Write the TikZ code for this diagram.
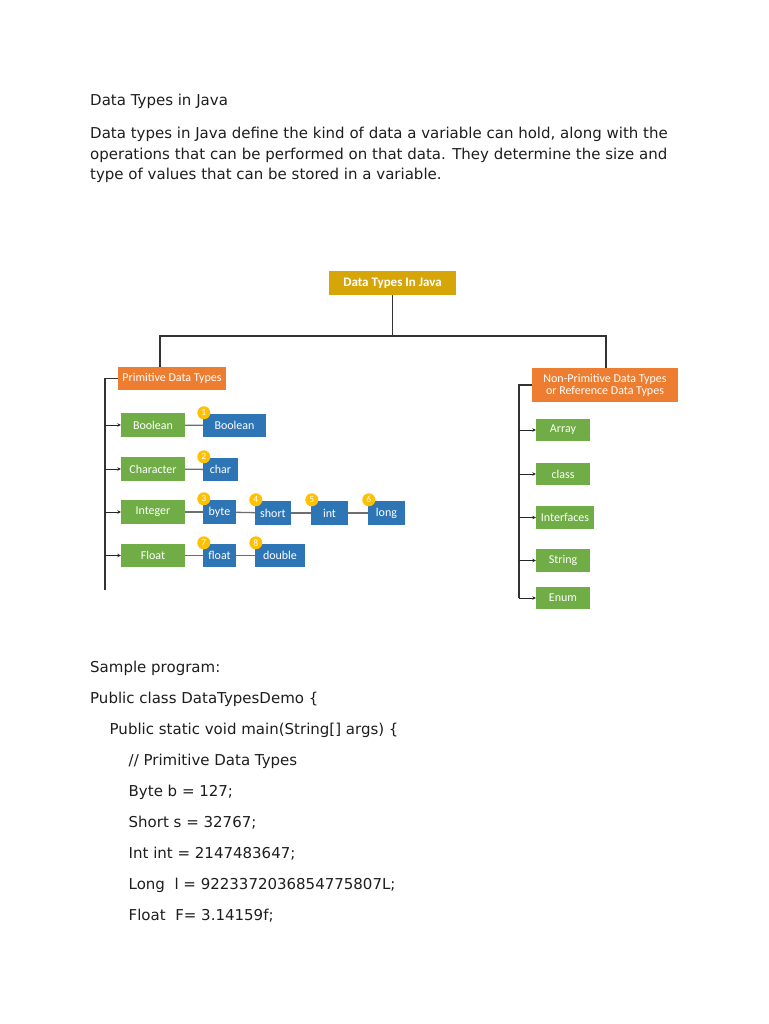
\documentclass[tikz,border=0pt]{standalone}
\usepackage{fontspec}
\setmainfont{DejaVu Sans}
\newfontfamily\boxfont{Carlito}
\usetikzlibrary{arrows.meta}
\definecolor{gold}{RGB}{214,166,8}
\definecolor{orng}{RGB}{237,125,49}
\definecolor{grn}{RGB}{112,173,71}
\definecolor{blu}{RGB}{46,117,182}
\definecolor{ylw}{RGB}{255,192,0}
\definecolor{txt}{RGB}{30,30,30}
\definecolor{conn}{RGB}{110,110,110}
\tikzset{
  pline/.style={anchor=base west, inner sep=0pt, text=txt, font=\fontsize{15}{18}\selectfont},
  cbox/.style={rectangle, inner sep=0pt, text=white, font=\boxfont\fontsize{12}{14}\selectfont, align=center},
  gbox/.style={cbox, fill=grn},
  bbox/.style={cbox, fill=blu},
  obox/.style={cbox, fill=orng},
  num/.style={circle, fill=ylw, inner sep=0pt, minimum size=13pt, text=white, font=\boxfont\fontsize{9.5}{10}\selectfont},
  tree/.style={draw=black!80, line width=1.2pt},
  link/.style={draw=conn, line width=1.3pt},
  arr/.style={draw=black!85, line width=1pt, -{Stealth[length=3.5pt,width=3.5pt]}}
}
\begin{document}
\begin{tikzpicture}[x=1pt,y=-1pt]
\fill[white] (0,0) rectangle (768,1024);
\useasboundingbox (0,0) rectangle (768,1024);

% heading text
\node[pline] (h1) at (90,106) {Data Types in Java};
\node[pline] (p1) at (90,138.5) {Data types in Java define the kind of data a variable can hold, along with the};
\node[pline] (p2) at (90,159.5) {operations that can be performed on that data. They determine the size and};
\node[pline] (p3) at (90,180) {type of values that can be stored in a variable.};

% diagram boxes
\node[cbox, fill=gold, minimum width=127pt, minimum height=24pt, font=\boxfont\bfseries\fontsize{13}{15}\selectfont] (title) at (392.5,283) {Data Types In Java};
\node[obox, minimum width=108pt, minimum height=23pt] (prim) at (172,378.5) {Primitive Data Types};
\node[obox, minimum width=146pt, minimum height=34pt] (nonprim) at (605,385) {Non-Primitive Data Types\\[-2pt]or Reference Data Types};

\node[gbox, minimum width=64pt, minimum height=24pt] (gbool) at (153,425) {Boolean};
\node[gbox, minimum width=64pt, minimum height=24pt] (gchar) at (153,469) {Character};
\node[gbox, minimum width=64pt, minimum height=24pt] (gint) at (153,512) {Integer};
\node[gbox, minimum width=64pt, minimum height=23pt] (gfloat) at (153,555.5) {Float};

\node[bbox, minimum width=63pt, minimum height=23pt] (b1) at (234.5,425.5) {Boolean};
\node[bbox, minimum width=35pt, minimum height=23pt] (b2) at (220.5,469.5) {char};
\node[bbox, minimum width=33pt, minimum height=24pt] (b3) at (219.5,512) {byte};
\node[bbox, minimum width=36pt, minimum height=24pt] (b4) at (273,513) {short};
\node[bbox, minimum width=37pt, minimum height=24pt] (b5) at (329.5,513) {int};
\node[bbox, minimum width=37pt, minimum height=24pt] (b6) at (386.5,513) {long};
\node[bbox, minimum width=33pt, minimum height=23pt] (b7) at (219.5,555.5) {float};
\node[bbox, minimum width=50pt, minimum height=23pt] (b8) at (280,555.5) {double};

\node[gbox, minimum width=54pt, minimum height=22pt] (array) at (563,430) {Array};
\node[gbox, minimum width=54pt, minimum height=22pt] (class) at (563,474) {class};
\node[gbox, minimum width=58pt, minimum height=23pt] (iface) at (565,517.5) {Interfaces};
\node[gbox, minimum width=54pt, minimum height=23pt] (string) at (563,560.5) {String};
\node[gbox, minimum width=54pt, minimum height=22pt] (enum) at (563,598) {Enum};

% connectors green -> blue
\draw[link] (gbool) -- (b1);
\draw[link] (gchar) -- (b2);
\draw[link] (gint.east) -- (b3.west |- gint.east);
\draw[link] (b3) -- (b4);
\draw[link] (b4) -- (b5);
\draw[link] (b5) -- (b6);
\draw[link] (gfloat) -- (b7);
\draw[link] (b7) -- (b8);

% number badges
\foreach \b/\n in {b1/1,b2/2,b3/3,b4/4,b5/5,b6/6,b7/7,b8/8}
  \node[num] (n\n) at ([xshift=1pt,yshift=1pt]\b.north west) {\n};

% tree
\coordinate (hub) at (392.5,336);
\draw[tree] (title.south) -- (hub);
\draw[tree] ([xshift=-12pt]prim.north) |- (hub) -| ([xshift=1pt]nonprim.north);

% left bracket
\coordinate (ltop) at (105,378.5);
\coordinate (lbot) at (105,590);
\draw[tree] (prim.west) -- (ltop) -- (lbot);
\foreach \g in {gbool,gchar,gint,gfloat}
  \draw[arr] (ltop |- \g.west) -- (\g.west);

% right bracket
\coordinate (rtop) at (519,385);
\draw[tree] (nonprim.west |- rtop) -- (rtop) -- (rtop |- enum.west);
\foreach \g in {array,class,iface,string}
  \draw[arr] (rtop |- \g.west) -- (\g.west);
\draw[arr] (rtop |- enum.west) -- (enum.west);

% sample program
\node[pline] (s0) at (90,672.5) {Sample program:};
\node[pline] (s1) at (90,703.5) {Public class DataTypesDemo \{};
\node[pline] (s2) at (109.5,734.5) {Public static void main(String[] args) \{};
\node[pline] (s3) at (128.5,765.5) {// Primitive Data Types};
\node[pline] (s4) at (128.5,796.5) {Byte b = 127;};
\node[pline] (s5) at (128.5,827.5) {Short s = 32767;};
\node[pline] (s6) at (128.5,858.5) {Int int = 2147483647;};
\node[pline] (s7) at (128.5,889.5) {Long\ \ l = 9223372036854775807L;};
\node[pline] (s8) at (128.5,920.5) {Float\ \ F= 3.14159f;};
\end{tikzpicture}
\end{document}
